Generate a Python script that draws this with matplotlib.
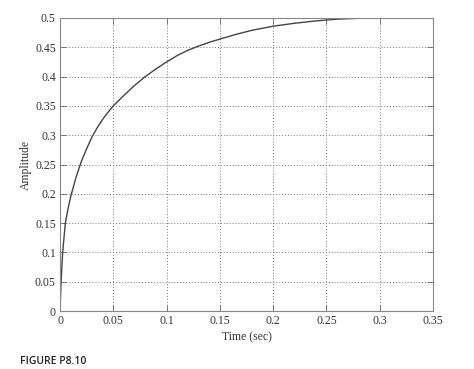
import matplotlib
matplotlib.use("Agg")
import matplotlib.pyplot as plt

time_s = [0, 0.001, 0.0025, 0.005, 0.0075, 0.01, 0.015, 0.02, 0.025, 0.03,
          0.035, 0.04, 0.045, 0.05, 0.06, 0.07, 0.08, 0.09, 0.1, 0.11,
          0.12, 0.13, 0.14, 0.15, 0.165, 0.18, 0.2, 0.22, 0.24, 0.26,
          0.28, 0.3]
amplitude = [0, 0.05, 0.10, 0.15, 0.174, 0.195, 0.228, 0.255, 0.277, 0.297,
             0.313, 0.327, 0.339, 0.35, 0.368, 0.385, 0.400, 0.413, 0.425, 0.436,
             0.445, 0.452, 0.4585, 0.464, 0.472, 0.479, 0.486, 0.491, 0.495, 0.498,
             0.4995, 0.5]
xticks = [0, 0.05, 0.1, 0.15, 0.2, 0.25, 0.3, 0.35]
yticks = [0, 0.05, 0.1, 0.15, 0.2, 0.25, 0.3, 0.35, 0.4, 0.45, 0.5]

fig = plt.figure(figsize=(4.74, 3.69), dpi=100)
ax = fig.add_axes([60/474, 58/369, 373/474, 293/369])
ax.plot(time_s, amplitude, color="#444444", lw=1.0)
ax.set_xlim(0, 0.35)
ax.set_ylim(0, 0.5)
ax.set_xticks(xticks)
ax.set_yticks(yticks)
ax.set_xticklabels([f"{v:g}" for v in xticks])
ax.set_yticklabels([f"{v:g}" for v in yticks])
ax.grid(True, linestyle=(0, (1, 2)), color="#777777", lw=0.7)
ax.tick_params(direction="in", top=True, right=True, length=4, width=0.6,
               color="#666666", labelsize=8.5, pad=3)
for lab in ax.get_xticklabels() + ax.get_yticklabels():
    lab.set_fontfamily("Liberation Serif")
    lab.set_color("#333333")
for s in ax.spines.values():
    s.set_color("#888888")
    s.set_linewidth(0.8)
ax.set_xlabel("Time (sec)", fontfamily="Liberation Serif", fontsize=8.5, color="#333333", labelpad=3)
ax.set_ylabel("Amplitude", fontfamily="Liberation Serif", fontsize=8.5, color="#333333")
ax.yaxis.set_label_coords(-0.075, 0.5)
fig.text(20/474, 1 - 362/369, "FIGURE P8.10", fontfamily="Open Sans", fontweight="semibold",
         fontsize=7.5, color="#222222", va="center", ha="left")
fig.savefig("out.png", dpi=100)
